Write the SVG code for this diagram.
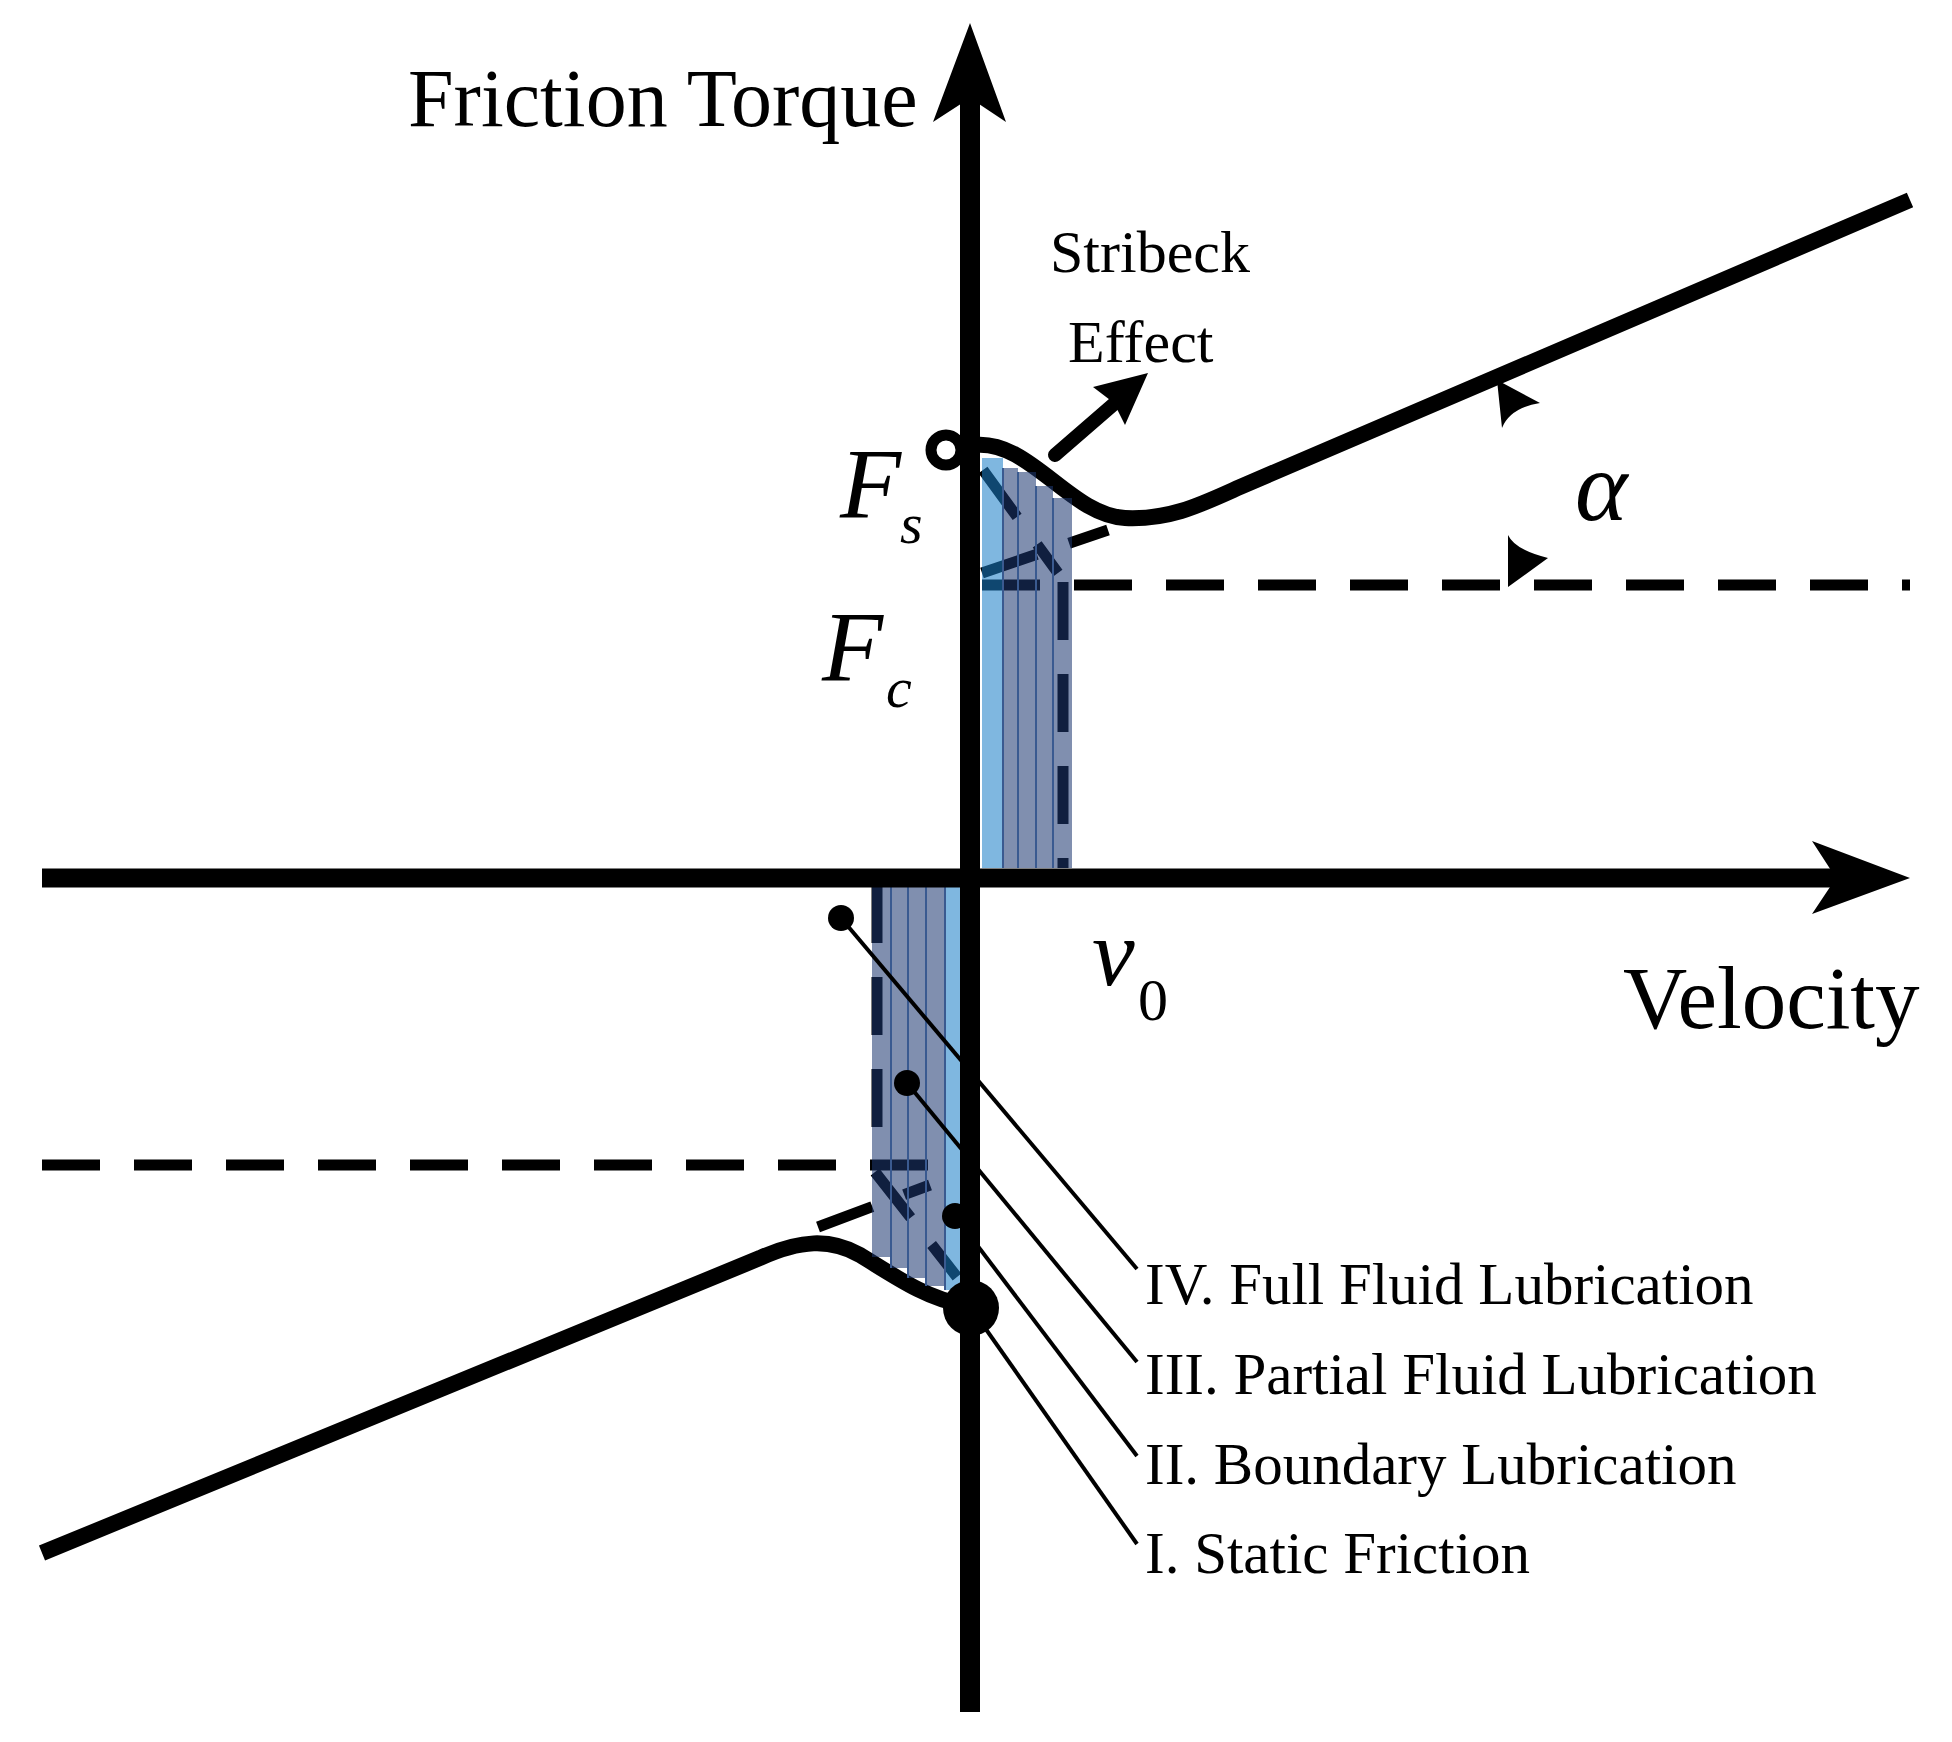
<svg xmlns="http://www.w3.org/2000/svg" width="1952" height="1742" viewBox="0 0 1952 1742">
<style>
.t{font-family:"Liberation Serif",serif;fill:#000}
.i{font-style:italic}
.dash{stroke:#000;stroke-width:11;fill:none;stroke-dasharray:58 34}
.lead{stroke:#000;stroke-width:4;fill:none}
.dark{fill:rgb(29,56,113);fill-opacity:0.56}
.lt{fill:rgb(27,127,199);fill-opacity:0.56}
.vl{stroke:#3a5a90;stroke-width:2}
</style>
<rect width="1952" height="1742" fill="#fff"/>
<g id="connectors">
<line class="dash" x1="982" y1="585" x2="1910" y2="585"/>
<line class="dash" x1="1063" y1="582" x2="1063" y2="868" stroke-dasharray="20 34 58 34 58 34 58"/>
<line class="dash" x1="982" y1="573" x2="1108" y2="530" stroke-dasharray="42 33 60"/>
<line class="dash" x1="983" y1="470" x2="1058" y2="573" stroke-dasharray="36 40 60"/>
<line class="dash" x1="42" y1="1165" x2="963" y2="1165"/>
<line class="dash" x1="877" y1="885" x2="877" y2="1170" stroke-dasharray="47 34 58 34 58 34 58"/>
<line class="dash" x1="818" y1="1227" x2="930" y2="1185" stroke-dasharray="24 38 60"/>
<line class="dash" x1="875" y1="1172" x2="957" y2="1277" stroke-dasharray="52 34 48"/>
<path d="M975 445 C1030 440 1070 515 1125 518 C1170 520 1200 505 1240 487 L1910 200" fill="none" stroke="#000" stroke-width="16"/>
<path d="M42 1553 L760 1258 C800 1240 830 1238 860 1255 C900 1280 930 1300 965 1305" fill="none" stroke="#000" stroke-width="16"/>
</g>
<g id="regions">
<rect class="lt" x="982" y="458" width="21" height="410"/>
<path class="dark" d="M1003 468 H1018 V472 H1036 V486 H1053 V498 H1072 V868 H1003 Z"/>
<line class="vl" x1="1003" y1="468" x2="1003" y2="868"/>
<line class="vl" x1="1018" y1="472" x2="1018" y2="868"/>
<line class="vl" x1="1036" y1="486" x2="1036" y2="868"/>
<line class="vl" x1="1053" y1="498" x2="1053" y2="868"/>
<path class="dark" d="M872 885 H945 V1286 H926 V1278 H908 V1268 H891 V1257 H872 Z"/>
<rect class="lt" x="945" y="885" width="18" height="405"/>
<line class="vl" x1="891" y1="885" x2="891" y2="1268"/>
<line class="vl" x1="908" y1="885" x2="908" y2="1278"/>
<line class="vl" x1="926" y1="885" x2="926" y2="1286"/>
<line class="vl" x1="945" y1="885" x2="945" y2="1290"/>
</g>
<g id="axes">
<line x1="970" y1="95" x2="970" y2="1712" stroke="#000" stroke-width="20"/>
<path d="M970 23 L1006 122 L970 98 L933 122 Z" fill="#000"/>
<line x1="42" y1="878" x2="1860" y2="878" stroke="#000" stroke-width="19"/>
<path d="M1910 878 L1812 914 L1836 878 L1812 841 Z" fill="#000"/>
<line x1="1055" y1="455" x2="1115" y2="403" stroke="#000" stroke-width="14" stroke-linecap="round"/>
<path d="M1148 373 L1125 425 L1114 403 L1093 387 Z" fill="#000"/>
<path d="M1497 380 L1540 403 Q1510 408 1502 428 Z" fill="#000"/>
<path d="M1508 587 L1548 558 Q1515 550 1508 535 Z" fill="#000"/>
<line class="lead" x1="841" y1="918" x2="1137" y2="1269"/>
<line class="lead" x1="907" y1="1083" x2="1137" y2="1362"/>
<line class="lead" x1="955" y1="1216" x2="1137" y2="1456"/>
<line class="lead" x1="971" y1="1308" x2="1137" y2="1544"/>
</g>
<g id="points">
<circle cx="946" cy="450" r="15" fill="#fff" stroke="#000" stroke-width="11"/>
<circle cx="971" cy="1308" r="28" fill="#000"/>
<circle cx="841" cy="918" r="13" fill="#000"/>
<circle cx="907" cy="1083" r="13" fill="#000"/>
<circle cx="955" cy="1216" r="13" fill="#000"/>
</g>
<g id="labels">
<text class="t" x="408" y="126" font-size="82">Friction Torque</text>
<text class="t" x="1623" y="1028" font-size="89">Velocity</text>
<text class="t" x="1050" y="272" font-size="60">Stribeck</text>
<text class="t" x="1068" y="362" font-size="60">Effect</text>
<text class="t i" x="840" y="517" font-size="100">F</text>
<text class="t i" x="900" y="543" font-size="58">s</text>
<text class="t i" x="822" y="680" font-size="100">F</text>
<text class="t i" x="886" y="707" font-size="58">c</text>
<text class="t i" x="1092" y="985" font-size="96">v</text>
<text class="t" x="1138" y="1020" font-size="60">0</text>
<text class="t i" x="1575" y="520" font-size="100">α</text>
<text class="t" x="1145" y="1304" font-size="59">IV. Full Fluid Lubrication</text>
<text class="t" x="1145" y="1394" font-size="59">III. Partial Fluid Lubrication</text>
<text class="t" x="1145" y="1484" font-size="59">II. Boundary Lubrication</text>
<text class="t" x="1145" y="1573" font-size="59">I. Static Friction</text>
</g>
</svg>
